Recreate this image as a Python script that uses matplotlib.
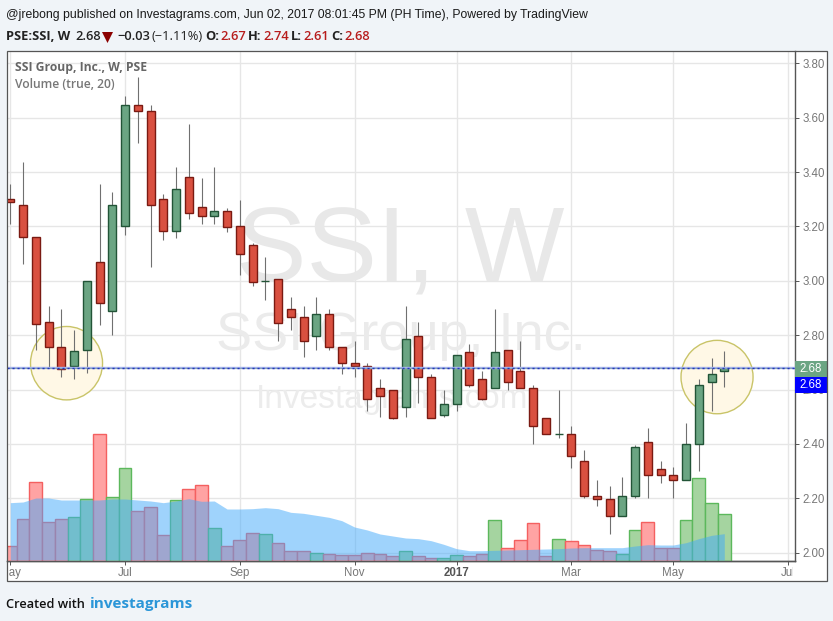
import matplotlib
matplotlib.use('Agg')
import matplotlib.pyplot as plt
from matplotlib.patches import Ellipse, Rectangle, Polygon
from matplotlib.transforms import Bbox, TransformedBbox

W, H = 833, 621

# weekly candles
opens = [3.30, 3.28, 3.16, 2.85, 2.755, 2.685, 2.745, 3.07, 2.89, 3.20, 3.645, 3.625, 3.30, 3.185, 3.38,
         3.27, 3.237, 3.257, 3.20, 3.13, 3.00, 3.007, 2.895, 2.866, 2.796, 2.877, 2.756, 2.697, 2.686,
         2.606, 2.598, 2.536, 2.796, 2.646, 2.505, 2.547, 2.738, 2.638, 2.606, 2.745, 2.668, 2.606,
         2.495, 2.437, 2.437, 2.338, 2.209, 2.198, 2.136, 2.209, 2.407, 2.308, 2.286, 2.268, 2.401,
         2.628, 2.67]
highs = [3.357, 3.437, 3.16, 2.908, 2.897, 2.82, 3.00, 3.357, 3.328, 3.68, 3.749, 3.646, 3.32, 3.418, 3.576,
         3.378, 3.418, 3.268, 3.297, 3.139, 3.089, 3.007, 2.94, 2.908, 2.94, 2.895, 2.756, 2.778, 2.697,
         2.638, 2.598, 2.908, 2.848, 2.657, 2.598, 2.727, 2.768, 2.668, 2.895, 2.745, 2.778, 2.617,
         2.495, 2.598, 2.466, 2.378, 2.268, 2.246, 2.279, 2.396, 2.459, 2.338, 2.316, 2.477, 2.638,
         2.716, 2.74]
lows = [3.21, 3.06, 2.746, 2.68, 2.648, 2.64, 2.66, 2.838, 2.80, 3.17, 3.508, 3.05, 3.149, 3.159, 3.229,
        3.21, 3.21, 3.179, 3.02, 2.98, 2.93, 2.78, 2.82, 2.718, 2.747, 2.747, 2.659, 2.648, 2.52,
        2.498, 2.492, 2.498, 2.549, 2.495, 2.498, 2.52, 2.608, 2.56, 2.606, 2.598, 2.606, 2.40,
        2.437, 2.422, 2.31, 2.20, 2.17, 2.067, 2.136, 2.20, 2.20, 2.258, 2.20, 2.268, 2.30,
        2.52, 2.61]
closes = [3.29, 3.16, 2.84, 2.755, 2.675, 2.74, 3.00, 2.92, 3.28, 3.645, 3.625, 3.28, 3.185, 3.338, 3.248,
          3.237, 3.257, 3.197, 3.098, 2.995, 3.00, 2.846, 2.866, 2.778, 2.877, 2.756, 2.697, 2.685, 2.565,
          2.576, 2.495, 2.785, 2.646, 2.495, 2.547, 2.727, 2.617, 2.565, 2.738, 2.628, 2.606, 2.466,
          2.437, 2.437, 2.356, 2.209, 2.198, 2.136, 2.209, 2.389, 2.286, 2.286, 2.268, 2.401, 2.617,
          2.657, 2.68]
volumes = [41, 122, 233, 113, 122, 128, 182, 377, 188, 275, 146, 158, 74, 179, 212, 224, 95, 41, 59, 80,
           77, 50, 26, 26, 20, 17, 14, 14, 20, 17, 11, 26, 11, 5, 5, 14, 11, 17, 119, 35, 59, 110,
           11, 62, 56, 44, 29, 26, 17, 89, 113, 35, 35, 119, 245, 170, 137]
volume_ma = [172, 174, 186, 186, 180, 180, 180, 180, 183, 183, 180, 177, 172, 177, 184, 176, 177, 153,
             153, 154, 157, 154, 143, 140, 134, 128, 118, 99, 90, 78, 72, 66, 64, 58, 47, 34, 28, 28,
             29, 30, 31, 32, 33, 34, 36, 37, 37, 37, 37, 42, 46, 45, 45, 52, 64, 74, 79]

x_ticks = [0, 9, 18, 27, 35, 44, 52, 61]
x_labels = ['May', 'Jul', 'Sep', 'Nov', '2017', 'Mar', 'May', 'Jul']
y_ticks = [2.00, 2.20, 2.40, 2.60, 2.80, 3.00, 3.20, 3.40, 3.60, 3.80]
last_price = 2.679

BG = '#f0f4f8'
FRAME = '#555555'
GRID = '#e6e6e6'
RED_BODY, RED_EDGE = '#d95040', '#7a1a12'
GREEN_BODY, GREEN_EDGE = '#6ba583', '#225437'
TICK_TXT = '#777777'
SANS = ['Liberation Sans', 'DejaVu Sans']
OPEN = ['Open Sans', 'DejaVu Sans']

def fx(x):
    return x / W

def fy(y):
    return 1 - y / H

fig = plt.figure(figsize=(W / 100, H / 100), dpi=100, facecolor=BG)

# outer white frame, price scale and time scale sit inside it
fig.add_artist(Rectangle((fx(6.5), fy(580.5)), 820 / W, 530 / H, transform=fig.transFigure,
                         facecolor='white', edgecolor='none', zorder=-1))
fig.add_artist(Rectangle((fx(6.5), fy(580.5)), 820 / W, 530 / H, transform=fig.transFigure,
                         facecolor='none', edgecolor=FRAME, linewidth=0.9, zorder=9))

PANE_L, PANE_R, PANE_T, PANE_B = 6.5, 794.5, 50.5, 561
ax = fig.add_axes([fx(PANE_L), fy(PANE_B), (PANE_R - PANE_L) / W, (PANE_B - PANE_T) / H])
ax.patch.set_visible(False)
ax.set_xlim((PANE_L - 10.3) / 12.75, (PANE_R - 10.3) / 12.75)
ax.set_ylim(1.9695, 3.847)
ax.set_axisbelow(True)
ax.grid(True, color=GRID, linewidth=1.0)

# watermark
ax.text(0.5, 0.602, 'SSI, W', transform=ax.transAxes, fontsize=76, color='#e8e8e8',
        ha='center', va='center', family=SANS, zorder=1)
ax.text(0.5, 0.441, 'SSI Group, Inc.', transform=ax.transAxes, fontsize=39, color='#ebebeb',
        ha='center', va='center', family=SANS, zorder=1)
ax.text(0.4895, 0.316, 'Investagrams.com', transform=ax.transAxes, fontsize=24, color='#ececec',
        ha='center', va='center', family=SANS, zorder=1)

# highlighted circles
for cx, cy in [(4.41, 2.697), (55.43, 2.646)]:
    ax.add_patch(Ellipse((cx, cy), 5.65, 0.27, facecolor='#fff8e6', edgecolor='#c9c468',
                         linewidth=1.0, zorder=1.5))

# candles
idx = list(range(len(opens)))
up = [c >= o for o, c in zip(opens, closes)]
ax.vlines(idx, lows, highs, color='#707070', linewidth=0.8, zorder=3)
body_bottom = [min(o, c) for o, c in zip(opens, closes)]
body_height = [abs(c - o) for o, c in zip(opens, closes)]
ax.bar(idx, body_height, bottom=body_bottom, width=0.63,
       color=[GREEN_BODY if u else RED_BODY for u in up],
       edgecolor=[GREEN_EDGE if u else RED_EDGE for u in up], linewidth=1.0, zorder=4)

# last price line: pale band, thin centre, dark dots
ax.axhline(last_price, color='#a5b4ea', linewidth=1.7, zorder=5)
ax.axhline(last_price, color='#7fa0a8', linewidth=0.6, zorder=5.1)
ax.axhline(last_price, color='#2233c4', linewidth=1.0, linestyle=(0, (1.5, 2.1)), zorder=5.2)

# volume shares the pane on its own scale
VOL_MIN = -3
ax_vol = ax.twinx()
ax_vol.set_ylim(VOL_MIN, 1528.5)
ax_vol.patch.set_visible(False)
ax_vol.set_yticks([])
for side in ['top', 'left', 'right']:
    ax_vol.spines[side].set_visible(False)
ax_vol.spines['bottom'].set_color(FRAME)
ax_vol.spines['bottom'].set_linewidth(1.0)
ax_vol.bar(idx, [v - VOL_MIN for v in volumes], bottom=VOL_MIN, width=1.0,
           color=['#a5d4a0' if u else '#ffa3a3' for u in up],
           edgecolor=['#5cb85c' if u else '#f46060' for u in up], linewidth=1.0, zorder=2)
ax_vol.fill_between(idx, 0, volume_ma, color='#41a9fb', alpha=0.5, linewidth=0, zorder=3)

# twinx moves the ticks back, so the scales are set up after it
for side in ['top', 'left']:
    ax.spines[side].set_visible(False)
ax.spines['right'].set_color(FRAME)
ax.spines['bottom'].set_color(FRAME)
ax.spines['right'].set_linewidth(1.0)
ax.spines['bottom'].set_linewidth(1.0)
ax.yaxis.tick_right()
ax.set_yticks(y_ticks)
ax.set_yticklabels([f'{v:.2f}' for v in y_ticks], fontsize=8.3, color=TICK_TXT, family=SANS)
ax.tick_params(axis='y', length=3, width=0.7, color=FRAME, pad=3)
ax.set_xticks(x_ticks)
ax_vol.tick_params(axis='x', bottom=False, labelbottom=False)
ax.set_xticklabels(x_labels, fontsize=8.3, color=TICK_TXT, family=SANS)
ax.tick_params(axis='x', length=3, width=0.7, color=FRAME, pad=1)
clip = TransformedBbox(Bbox([[fx(PANE_L), fy(580)], [fx(793), fy(561)]]), fig.transFigure)
for lab, txt in zip(ax.get_xticklabels(), x_labels):
    lab.set_clip_on(True)
    lab.set_clip_box(clip)
    if txt == '2017':
        lab.set_fontweight('bold')
        lab.set_color('#555555')

# price tags on the scale
tag_x = 794.5
fig.add_artist(Rectangle((fx(tag_x), fy(377)), 32 / W, 16 / H, transform=fig.transFigure,
                         facecolor=GREEN_BODY, edgecolor='none', zorder=6))
fig.add_artist(Rectangle((fx(tag_x), fy(393)), 32 / W, 16 / H, transform=fig.transFigure,
                         facecolor='#0000ff', edgecolor='none', zorder=6))
fig.text(fx(811), fy(369), '2.68', color='white', fontsize=8.3, ha='center', va='center', family=SANS, zorder=7)
fig.text(fx(811), fy(385), '2.68', color='white', fontsize=8.3, ha='center', va='center', family=SANS, zorder=7)

# header lines
fig.text(fx(6), fy(15), '@jrebong published on Investagrams.com, Jun 02, 2017 08:01:45 PM (PH Time), Powered by TradingView',
         fontsize=8.83, color='#1a1a1a', va='center', family=SANS)
DARK_RED = '#b71c1c'
header = [(6.5, 'PSE:SSI, W', 'bold', '#222222'), (75, '2.68', 'semibold', '#222222'),
          (117, '\u22120.03', 'semibold', '#222222'), (152, '(\u22121.11%)', 'normal', '#222222'),
          (205, 'O:', 'bold', '#222222'), (220, '2.67', 'semibold', DARK_RED),
          (248, 'H:', 'bold', '#222222'), (263, '2.74', 'semibold', DARK_RED),
          (291, 'L:', 'bold', '#222222'), (303, '2.61', 'semibold', DARK_RED),
          (331, 'C:', 'bold', '#222222'), (344, '2.68', 'semibold', DARK_RED)]
for x, s, weight, col in header:
    fig.text(fx(x), fy(37), s, fontsize=9.3, fontweight=weight, color=col, va='center', family=OPEN)
fig.add_artist(Polygon([(fx(102), fy(32)), (fx(113), fy(32)), (fx(107.5), fy(43))], closed=True,
                       transform=fig.transFigure, facecolor='#8b0000', edgecolor='none'))

# pane captions
fig.text(fx(15), fy(67.5), 'SSI Group, Inc., W, PSE', fontsize=8.7, fontweight='bold', color='#666666',
         va='center', family=OPEN, zorder=8)
fig.text(fx(15), fy(84.5), 'Volume (true, 20)', fontsize=8.7, fontweight='semibold', color='#777777',
         va='center', family=OPEN, zorder=8)

# footer
fig.text(fx(6), fy(604), 'Created with', fontsize=9.2, fontweight='semibold', color='#111111', va='center', family=OPEN)
fig.text(fx(89.5), fy(604), 'investagrams', fontsize=11, fontweight='bold', color='#2b96d8', va='center', family=OPEN)

fig.savefig('out.png', dpi=100, facecolor=BG)
